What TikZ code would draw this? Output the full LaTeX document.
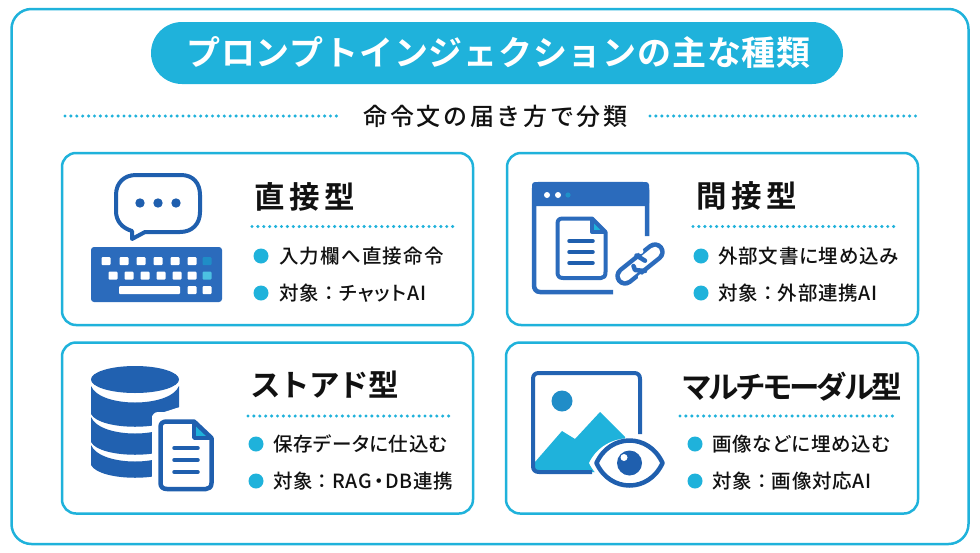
\documentclass[tikz,border=0pt]{standalone}
\usepackage{fontspec}
\setmainfont{Noto Sans CJK JP}
\newfontfamily\jpb{Noto Sans CJK JP Bold}
\newfontfamily\jpm{Noto Sans CJK JP Medium}
\definecolor{cy}{HTML}{1FB2DB}
\definecolor{bl}{HTML}{1F5FAE}
\definecolor{blb}{HTML}{2B6BBC}
\definecolor{tx}{HTML}{111111}
\tikzset{
 x=1pt,y=-1pt,
 card/.style={draw=cy,line width=2.5pt,rounded corners=14pt,fill=white},
 dots/.style={draw=cy,line width=3.4pt,line cap=round,dash pattern=on 0pt off 5.9pt},
 bul/.style={circle,fill=cy,minimum size=15pt,inner sep=0pt},
 hd/.style={anchor=west,inner sep=0pt,text=tx,font=\jpb\fontsize{30.5}{31}\selectfont\addfontfeature{LetterSpace=#1}},
 hd/.default=12,
 it/.style={anchor=west,inner sep=0pt,text=tx,font=\jpm\fontsize{19.5}{20}\selectfont\addfontfeature{RawFeature=+palt,LetterSpace=#1}},
 it/.default=4,
 ln/.style={draw=bl,line width=3.5pt,line cap=round},
}
\newcommand{\keyat}[3][white]{\fill[#1,rounded corners=1pt] (#2-4.5,#3-4) rectangle (#2+4.5,#3+4);}
\newcommand{\colonjp}{\kern5pt：\kern5pt}
\begin{document}
\begin{tikzpicture}
\useasboundingbox (0,0) rectangle (980,552);
\fill[white] (0,0) rectangle (980,552);
\draw[draw=cy,line width=2.5pt,rounded corners=20pt] (11.5,9) rectangle (968.5,544);
\fill[cy,rounded corners=31pt] (151,22) rectangle (843,84);
\node (title) at (498.5,53) [inner sep=0pt,text=white,font=\jpb\fontsize{34}{35}\selectfont\addfontfeature{LetterSpace=2.3}] {プロンプトインジェクションの主な種類};
\node (sub) at (495.5,116) [inner sep=0pt,text=tx,font=\jpm\fontsize{24}{25}\selectfont\addfontfeature{LetterSpace=11}] {命令文の届き方で分類};
\draw[dots] (65,116) -- (342,116);
\draw[dots] (650,116) -- (920,116);
% cards
\draw[card] (62,153) rectangle (473,325);
\draw[card] (507,153) rectangle (918,325);
\draw[card] (62,342.5) rectangle (473,513.5);
\draw[card] (506,342.5) rectangle (918,513.5);
% Card 1 icon
\draw[bl,line width=4pt,line join=round,fill=white] (136,175) -- (181,175) .. controls (193,175) and (200,183) .. (200,195) -- (200,212) .. controls (200,224) and (192,232) .. (180,232) -- (145,232) -- (132,239) -- (132,231) .. controls (122,228) and (116,221) .. (116,211) -- (116,195) .. controls (116,183) and (124,175) .. (136,175) -- cycle;
\fill[bl] (140,203) circle (4.7) (158,203) circle (4.7) (176,203) circle (4.7);
\fill[blb,rounded corners=3pt] (91,247) rectangle (222,302);
\foreach \x in {106,124,141,158,175,192} {\keyat{\x}{261}}
\keyat[cy!55!bl]{207}{261}
\foreach \x in {113,129,145,161,177,192} {\keyat{\x}{275.5}}
\keyat[cy!80!white]{207}{275.5}
\fill[white,rounded corners=1pt] (119,286) rectangle (180,294);
\keyat{192}{290}\keyat{207}{290}
\node (h1) at (254,197) [hd=15] {直接型};
\draw[dots] (252,226.5) -- (453,226.5);
\node (b1a) at (261,256) [bul] {};
\node (t1a) at (279,256) [it=6] {入力欄へ直接命令};
\node (b1b) at (261,293) [bul] {};
\node (t1b) at (279,293) [it=6] {対象\colonjp チャットAI};
% Card 2 icon
\draw[blb,line width=4.5pt,line cap=butt] (647,236) -- (647,190) .. controls (647,186) and (645,184) .. (641,184) -- (540,184) .. controls (536,184) and (534,186) .. (534,190) -- (534,285) .. controls (534,289) and (536,292) .. (540,292) -- (613,292);
\fill[blb,rounded corners=3pt] (532,182) rectangle (649,206);
\fill[white] (547,195) circle (3) (558,195) circle (3);
\fill[cy!60!bl] (568,195) circle (2.6);
\fill[cy] (592,219) -- (605,232) -- (592,232) -- cycle;
\draw[blb,line width=4pt,line join=round] (563,218.5) -- (592,218.5) -- (605.5,232) -- (605.5,272) .. controls (605.5,276) and (604,278) .. (601,278) -- (563,278) .. controls (559,278) and (557.5,276) .. (557.5,272) -- (557.5,224) .. controls (557.5,220) and (559,218.5) .. (563,218.5) -- cycle;
\draw[blb,line width=4pt,line join=round] (592,218.5) -- (592,232) -- (605.5,232);
\draw[ln] (569,241) -- (593,241);
\draw[ln] (569,252) -- (593,252);
\draw[ln] (569,263) -- (593,263);
% chain
\draw[white,line width=26pt,line cap=round] (625,276) -- (655,252);
\draw[blb,line width=19.5pt,line cap=round] (625,276) -- (655,252);
\draw[white,line width=10.5pt,line cap=round] (625,276) -- (655,252);
\fill[white] (640.7,251.2) circle (2.8) (640.7,277) circle (2.8);
\draw[blb,line width=4.5pt,line cap=round] (636.5,255.5) -- (645,260.7);
\draw[blb,line width=4.5pt,line cap=round,line join=round] (645,271) -- (635,270) -- (633.5,266);
\node (h2) at (696,196) [hd=15] {間接型};
\draw[dots] (693,226.5) -- (898,226.5);
\node (b2a) at (701,256) [bul] {};
\node (t2a) at (718,256) [it] {外部文書に埋め込み};
\node (b2b) at (701,293) [bul] {};
\node (t2b) at (718,293) [it] {対象\colonjp 外部連携AI};
% Card 3 icon
\fill[bl!85!blb] (135,379.5) ellipse (44 and 13.5);
\foreach \a/\b in {386/414,417/442,445/465}{
 \fill[bl!85!blb] (91,\a) .. controls (100,\a+22) and (170,\a+22) .. (179,\a) -- (179,\b) .. controls (170,\b+17) and (100,\b+17) .. (91,\b) -- cycle;
}
\fill[white] (186,405) -- (152,416) -- (152,495) -- (186,495) -- cycle;
\fill[white,rounded corners=6pt] (152,412) rectangle (220,497);
\fill[cy] (195,422) -- (211,438) -- (195,438) -- cycle;
\draw[bl,line width=4.5pt,line join=round,fill=none] (167,421.5) -- (194,421.5) -- (211.5,438) -- (211.5,483) .. controls (211.5,487) and (209,489) .. (206,489) -- (167,489) .. controls (163,489) and (160.5,487) .. (160.5,483) -- (160.5,427) .. controls (160.5,423) and (163,421.5) .. (167,421.5) -- cycle;
\draw[bl,line width=3.5pt,line join=round] (194,421.5) -- (194,438) -- (211.5,438);
\draw[ln] (174,448) -- (198,448);
\draw[ln] (174,460) -- (198,460);
\draw[ln] (174,472) -- (198,472);
\node (h3) at (250,385) [hd=-3] {ストアド型};
\draw[dots] (248,416) -- (452,416);
\node (b3a) at (256,444) [bul] {};
\node (t3a) at (273,444) [it=3] {保存データに仕込む};
\node (b3b) at (256,481) [bul] {};
\node (t3b) at (273,481) [it=3] {対象\colonjp RAG\kern2pt・\kern2pt DB連携};
% Card 4 icon
\fill[cy] (535,462) -- (562,431) -- (575,439) -- (600,412) -- (625,437) -- (625,472) -- (535,472) -- cycle;
\draw[bl!70!blb,line width=4pt,line join=round] (640,434) -- (640,379) .. controls (640,375) and (638,373) .. (634,373) -- (539,373) .. controls (535,373) and (533,375) .. (533,379) -- (533,466) .. controls (533,470) and (535,472) .. (539,472) -- (592,472);
\fill[bl!40!cy!90!blb] (562,401) circle (10.5);
\fill[white] (589,463) .. controls (605,430) and (653,430) .. (670,463) .. controls (653,496) and (605,496) .. (589,463) -- cycle;
\draw[bl,line width=4.5pt,line join=round,fill=white] (596.5,463) .. controls (610,433) and (649,433) .. (662.5,463) .. controls (649,493) and (610,493) .. (596.5,463) -- cycle;
\fill[bl] (629.5,463) circle (12.5);
\fill[white] (624,457.5) circle (3.5);
\node (h4) at (681,387) [hd=-11] {マルチモーダル型};
\draw[dots] (680,416) -- (897,416);
\node (b4a) at (695,444) [bul] {};
\node (t4a) at (712,444) [it] {画像などに埋め込む};
\node (b4b) at (695,481) [bul] {};
\node (t4b) at (712,481) [it] {対象\colonjp 画像対応AI};
\end{tikzpicture}
\end{document}
